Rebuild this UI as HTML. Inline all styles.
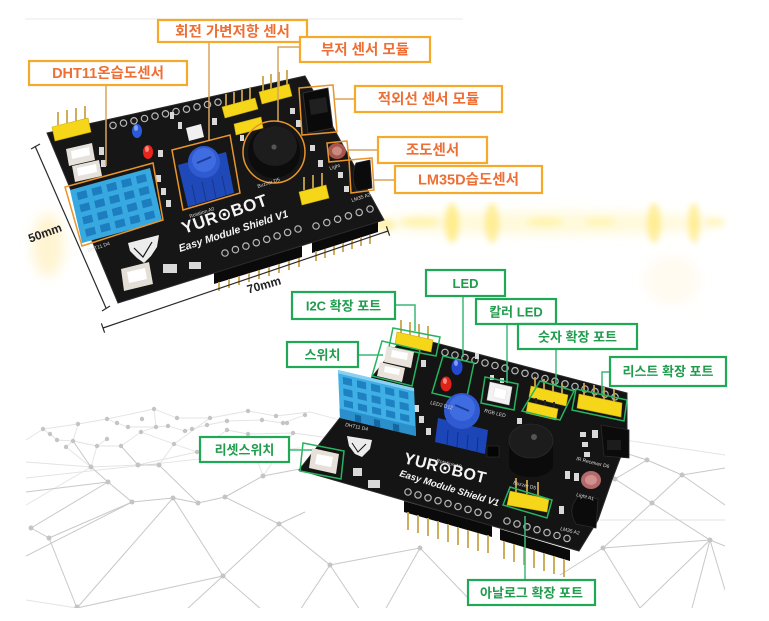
<!DOCTYPE html>
<html><head><meta charset="utf-8"><style>
html,body{margin:0;padding:0;background:#fff;width:769px;height:621px;overflow:hidden}
svg{display:block}
.ol{fill:#fff;stroke:#f6aa2a;stroke-width:2.2}
.gl{fill:#fff;stroke:#1fa855;stroke-width:2.2}
.ot{font-family:"Liberation Sans","Noto Sans CJK KR",sans-serif;font-weight:bold;font-size:14.5px;fill:#ee6f35;text-anchor:middle}
.gt{font-family:"Liberation Sans","Noto Sans CJK KR",sans-serif;font-weight:bold;font-size:13px;fill:#1f9c4c;text-anchor:middle}
.oc{stroke:#d9a35a;stroke-width:1.5;fill:none}
.gc{stroke:#3cb878;stroke-width:1.5;fill:none}
.of{stroke:#e8952c;stroke-width:1.5;fill:none}
.gf{stroke:#27b35f;stroke-width:1.5;fill:none}
.hole{fill:#1a1a1a;stroke:#b8b8b8;stroke-width:1.2}
.pin{stroke:#c9a44c;stroke-width:1.8}
.hdr{fill:#f5d619;stroke:#c9a90c;stroke-width:0.6}
.smd{fill:#d9d9d9}
.silk{font-family:"Liberation Sans",sans-serif;font-size:5px;fill:#ddd}
</style></head><body>
<svg width="769" height="621" viewBox="0 0 769 621" xmlns="http://www.w3.org/2000/svg">
<defs>
<filter id="bl" x="-50%" y="-100%" width="200%" height="300%"><feGaussianBlur stdDeviation="6"/></filter>
<filter id="bl2" x="-50%" y="-100%" width="200%" height="300%"><feGaussianBlur stdDeviation="3"/></filter>
<clipPath id="netclip"><rect x="26" y="380" width="699" height="228"/></clipPath>
</defs>
<rect width="769" height="621" fill="#fff"/>
<line x1="25" y1="19" x2="463" y2="19" stroke="#f1f1f1" stroke-width="1.5"/>

<!-- glow -->
<g filter="url(#bl)">
<ellipse cx="550" cy="223" rx="175" ry="11" fill="#fff1a8" opacity="0.45"/>
<ellipse cx="48" cy="245" rx="16" ry="32" fill="#ffe07a" opacity="0.35"/>
<ellipse cx="672" cy="280" rx="28" ry="25" fill="#fff3d6" opacity="0.35"/>
</g>
<g filter="url(#bl2)">
<ellipse cx="452" cy="223" rx="7" ry="20" fill="#ffe14d" opacity="0.55"/>
<ellipse cx="492" cy="223" rx="7" ry="20" fill="#ffe14d" opacity="0.5"/>
<ellipse cx="654" cy="223" rx="7" ry="20" fill="#ffe14d" opacity="0.5"/>
<ellipse cx="694" cy="223" rx="6" ry="20" fill="#ffe14d" opacity="0.5"/>
<ellipse cx="420" cy="222" rx="20" ry="5" fill="#ffeb70" opacity="0.4"/>
<ellipse cx="545" cy="222" rx="18" ry="5" fill="#ffeb70" opacity="0.35"/>
<ellipse cx="600" cy="222" rx="15" ry="5" fill="#ffeb70" opacity="0.3"/>
<ellipse cx="715" cy="222" rx="10" ry="4" fill="#ffeb70" opacity="0.35"/>
<ellipse cx="385" cy="225" rx="10" ry="6" fill="#ffe14d" opacity="0.4"/>
</g>

<!-- network -->
<g clip-path="url(#netclip)">
<g stroke="#e3e3e3" stroke-width="0.9" fill="none">
<path d="M26,440 L43,429 L78,424 L107,419 L154,409 L177,418 L210,418 L248,411 L276,416 L310,412 L340,420"/>
<path d="M50,434 L57,440 L73,441 L97,446 L121,446 L141,432 L174,444 L197,452 L227,430 L248,434 L293,433 L330,438"/>
<path d="M154,409 L156,427 L141,432"/>
<path d="M78,424 L73,441 L66,447 L91,467"/>
<path d="M107,439 L97,446 L91,467"/>
<path d="M107,419 L117,423 L128,427 L156,427 L168,426 L185,431 L192,429 L207,425 L227,421 L262,420 L283,423 L305,415"/>
<path d="M263,476 L248,434"/>
<path d="M159,465 L174,444"/>
<path d="M26,462 L91,467 L138,465 L197,452"/>
<path d="M26,478 L300,448"/>
<path d="M43,429 L57,440"/>
<path d="M174,444 L210,418"/>
<path d="M263,476 L293,433"/>
<path d="M26,505 L91,467"/>
<path d="M625,440 L725,455"/>
<path d="M600,520 L725,520"/>
<path d="M26,600 L77,608"/>
</g>
<g stroke="#c8c8c8" stroke-width="1" fill="none">
<path d="M31,528 L49,538 L77,608"/>
<path d="M77,608 L173,498 L223,576 L279,524"/>
<path d="M77,608 L223,576"/>
<path d="M173,498 L132,502 L108,482 L91,467 L73,441"/>
<path d="M108,482 L31,528"/>
<path d="M173,498 L198,503 L159,465 L138,465 L121,446"/>
<path d="M198,503 L225,497 L279,524"/>
<path d="M225,497 L263,476"/>
<path d="M49,538 L132,502"/>
<path d="M223,576 L262,610"/>
<path d="M223,576 L186,610"/>
<path d="M279,524 L305,512"/>
<path d="M26,492 L108,482"/>
<path d="M263,476 L305,468"/>
<path d="M132,502 L26,556"/>
<path d="M279,524 L330,565 L300,610"/>
<path d="M330,565 L420,548 L470,600"/>
<path d="M420,548 L385,610"/>
<path d="M330,565 L360,610"/>
<path d="M600,445 L647,460 L682,475 L725,468"/>
<path d="M615,479 L652,503 L710,540 L725,546"/>
<path d="M647,460 L615,479"/>
<path d="M682,475 L652,503"/>
<path d="M652,503 L603,548 L640,608"/>
<path d="M603,548 L710,540"/>
<path d="M682,475 L725,505"/>
<path d="M710,540 L692,608"/>
<path d="M710,540 L725,590"/>
<path d="M603,548 L560,575"/>
<path d="M640,608 L710,540"/>
</g>
<g fill="#c4c4c4">
<circle cx="154" cy="409" r="2.2"/><circle cx="78" cy="424" r="2.2"/><circle cx="43" cy="429" r="2.2"/><circle cx="107" cy="419" r="2.2"/><circle cx="117" cy="423" r="2.2"/><circle cx="128" cy="427" r="2.2"/><circle cx="142" cy="419" r="2.2"/><circle cx="156" cy="427" r="2.2"/><circle cx="168" cy="426" r="2.2"/><circle cx="177" cy="418" r="2.2"/><circle cx="185" cy="431" r="2.2"/><circle cx="192" cy="429" r="2.2"/><circle cx="210" cy="418" r="2.2"/><circle cx="207" cy="425" r="2.2"/><circle cx="227" cy="421" r="2.2"/><circle cx="248" cy="411" r="2.2"/><circle cx="262" cy="420" r="2.2"/><circle cx="276" cy="416" r="2.2"/><circle cx="283" cy="423" r="2.2"/><circle cx="248" cy="434" r="2.2"/><circle cx="227" cy="430" r="2.2"/><circle cx="293" cy="433" r="2.2"/><circle cx="50" cy="434" r="2.2"/><circle cx="57" cy="440" r="2.2"/><circle cx="73" cy="441" r="2.2"/><circle cx="66" cy="447" r="2.2"/><circle cx="97" cy="446" r="2.2"/><circle cx="107" cy="439" r="2.2"/><circle cx="121" cy="446" r="2.2"/><circle cx="141" cy="432" r="2.2"/><circle cx="174" cy="444" r="2.2"/><circle cx="197" cy="452" r="2.2"/><circle cx="305" cy="415" r="2.2"/><circle cx="287" cy="423" r="2.2"/>
<circle cx="91" cy="467" r="2.5"/><circle cx="138" cy="465" r="2.5"/><circle cx="159" cy="465" r="2.5"/><circle cx="108" cy="482" r="2.5"/><circle cx="132" cy="502" r="2.5"/><circle cx="173" cy="498" r="2.5"/><circle cx="198" cy="503" r="2.5"/><circle cx="225" cy="497" r="2.5"/><circle cx="263" cy="476" r="2.5"/><circle cx="31" cy="528" r="2.5"/><circle cx="49" cy="538" r="2.5"/><circle cx="279" cy="524" r="2.5"/><circle cx="223" cy="576" r="2.5"/><circle cx="77" cy="607" r="2.5"/><circle cx="330" cy="565" r="2.5"/><circle cx="420" cy="548" r="2.5"/>
<circle cx="647" cy="460" r="2.5"/><circle cx="682" cy="475" r="2.5"/><circle cx="652" cy="503" r="2.5"/><circle cx="710" cy="540" r="2.5"/><circle cx="603" cy="548" r="2.5"/><circle cx="615" cy="479" r="2.5"/>
</g>
</g>

<!-- ================= BOARD 1 ================= -->
<g>
<polygon points="214,273 302,246 302,257 214,284" fill="#0a0a0a"/>
<polygon points="312,242 378,221 378,232 312,253" fill="#0a0a0a"/>
<g class="pin">
<line x1="219" y1="282" x2="219" y2="291"/><line x1="229" y1="279" x2="229" y2="288"/><line x1="239" y1="276" x2="239" y2="285"/><line x1="249" y1="273" x2="249" y2="282"/><line x1="259" y1="270" x2="259" y2="279"/><line x1="269" y1="267" x2="269" y2="276"/><line x1="279" y1="264" x2="279" y2="273"/><line x1="289" y1="261" x2="289" y2="270"/><line x1="299" y1="258" x2="299" y2="267"/>
<line x1="316" y1="251" x2="316" y2="261"/><line x1="325" y1="249" x2="325" y2="258"/><line x1="334" y1="246" x2="334" y2="255"/><line x1="343" y1="243" x2="343" y2="252"/><line x1="352" y1="240" x2="352" y2="249"/><line x1="361" y1="237" x2="361" y2="246"/><line x1="370" y1="235" x2="370" y2="244"/>
</g>
<polygon points="47,133 305,76 384,220 118,303" fill="#161616" stroke="#2c2c2c" stroke-width="1"/>
<g class="hole">
<circle cx="113" cy="125.4" r="3.2"/><circle cx="123.5" cy="123.1" r="3.2"/><circle cx="134" cy="120.8" r="3.2"/><circle cx="144.5" cy="118.5" r="3.2"/><circle cx="155" cy="116.1" r="3.2"/><circle cx="165.5" cy="113.8" r="3.2"/><circle cx="176" cy="111.5" r="3.2"/><circle cx="186.5" cy="109.2" r="3.2"/><circle cx="197" cy="106.8" r="3.2"/><circle cx="207.5" cy="104.5" r="3.2"/><circle cx="218" cy="102.2" r="3.2"/>
<circle cx="225" cy="253" r="3.2"/><circle cx="235.4" cy="249.6" r="3.2"/><circle cx="245.9" cy="246.1" r="3.2"/><circle cx="256.3" cy="242.7" r="3.2"/><circle cx="266.7" cy="239.3" r="3.2"/><circle cx="277.1" cy="235.9" r="3.2"/><circle cx="287.6" cy="232.4" r="3.2"/><circle cx="298" cy="229" r="3.2"/>
<circle cx="316" cy="226" r="3.2"/><circle cx="326.8" cy="222.6" r="3.2"/><circle cx="337.6" cy="219.2" r="3.2"/><circle cx="348.4" cy="215.8" r="3.2"/><circle cx="359.2" cy="212.4" r="3.2"/><circle cx="370" cy="209" r="3.2"/>
</g>
<g class="smd">
<rect x="99" y="147" width="5" height="8"/><rect x="101" y="160" width="5" height="7"/><rect x="158" y="150" width="5" height="7"/><rect x="156" y="175" width="5" height="7"/><rect x="161" y="188" width="5" height="7"/><rect x="166" y="200" width="5" height="7"/><rect x="170" y="112" width="4" height="7"/><rect x="178" y="122" width="4" height="7"/><rect x="212" y="118" width="5" height="7"/><rect x="213" y="160" width="5" height="7"/><rect x="217" y="174" width="5" height="7"/><rect x="240" y="135" width="4" height="6"/><rect x="296" y="120" width="5" height="7"/><rect x="290" y="108" width="5" height="6"/><rect x="310" y="145" width="5" height="6"/><rect x="318" y="160" width="5" height="7"/><rect x="338" y="172" width="5" height="6"/><rect x="344" y="186" width="5" height="6"/><rect x="163" y="264" width="14" height="9"/><rect x="189" y="262" width="12" height="7"/>
</g>
<g class="pin"><line x1="58" y1="125" x2="58" y2="112"/><line x1="67" y1="123" x2="67" y2="110"/><line x1="76" y1="121" x2="76" y2="108"/><line x1="85" y1="119" x2="85" y2="106"/></g>
<polygon class="hdr" points="52,127 88,118 91,132 55,141"/>
<polygon points="66,149 92,143 95,160 69,166" fill="#e6e1da"/><polygon points="71,151 89,147 90,155 72,159" fill="#fff"/>
<polygon points="72,166 99,160 102,176 75,182" fill="#e6e1da"/><polygon points="77,168 96,164 97,172 78,176" fill="#fff"/>
<g transform="matrix(80,-22,12,53,70,190)">
<polygon points="0,0 1,0 1,1 0,1" fill="#38a9e0"/>
<g fill="#1c7dbf">
<rect x="0.07" y="0.08" width="0.12" height="0.14"/><rect x="0.255" y="0.08" width="0.12" height="0.14"/><rect x="0.44" y="0.08" width="0.12" height="0.14"/><rect x="0.625" y="0.08" width="0.12" height="0.14"/><rect x="0.81" y="0.08" width="0.12" height="0.14"/>
<rect x="0.07" y="0.31" width="0.12" height="0.14"/><rect x="0.255" y="0.31" width="0.12" height="0.14"/><rect x="0.44" y="0.31" width="0.12" height="0.14"/><rect x="0.625" y="0.31" width="0.12" height="0.14"/><rect x="0.81" y="0.31" width="0.12" height="0.14"/>
<rect x="0.07" y="0.54" width="0.12" height="0.14"/><rect x="0.255" y="0.54" width="0.12" height="0.14"/><rect x="0.44" y="0.54" width="0.12" height="0.14"/><rect x="0.625" y="0.54" width="0.12" height="0.14"/><rect x="0.81" y="0.54" width="0.12" height="0.14"/>
<rect x="0.07" y="0.77" width="0.12" height="0.14"/><rect x="0.255" y="0.77" width="0.12" height="0.14"/><rect x="0.44" y="0.77" width="0.12" height="0.14"/><rect x="0.625" y="0.77" width="0.12" height="0.14"/><rect x="0.81" y="0.77" width="0.12" height="0.14"/>
</g>
</g>
<polygon class="of" points="65,187 153,163 163,220 82,246"/>
<ellipse cx="137" cy="131" rx="5" ry="7" fill="#2a5ad8"/><ellipse cx="136" cy="128" rx="2" ry="3" fill="#7fa0f0"/>
<ellipse cx="148" cy="152" rx="5" ry="7" fill="#e8261c"/><ellipse cx="147" cy="149" rx="2" ry="3" fill="#f68a80"/>
<polygon points="186,128 201,124 204,137 189,141" fill="#f0f0f0"/>
<polygon points="178,165 226,152 234,193 188,207" fill="#1f48b8"/>
<g stroke="#17358a" stroke-width="1"><line x1="192" y1="185" x2="196" y2="204"/><line x1="202" y1="182" x2="206" y2="201"/><line x1="212" y1="179" x2="216" y2="198"/><line x1="222" y1="176" x2="226" y2="195"/></g>
<circle cx="204" cy="162" r="16" fill="#2f5ad0"/><circle cx="204" cy="160" r="12" fill="#3f6ce0"/><line x1="197" y1="163" x2="211" y2="157" stroke="#1c3c9c" stroke-width="2"/>
<polygon class="of" points="172,150 230,135 240,193 183,210"/>
<g class="pin">
<line x1="226" y1="106" x2="226" y2="94"/><line x1="234" y1="104" x2="234" y2="92"/><line x1="242" y1="102" x2="242" y2="90"/><line x1="250" y1="100" x2="250" y2="88"/>
<line x1="263" y1="91" x2="263" y2="76"/><line x1="271" y1="89" x2="271" y2="74"/><line x1="279" y1="87" x2="279" y2="72"/><line x1="287" y1="85" x2="287" y2="70"/>
<line x1="304" y1="190" x2="304" y2="177"/><line x1="313" y1="188" x2="313" y2="175"/><line x1="322" y1="186" x2="322" y2="173"/>
</g>
<polygon class="hdr" points="222,107 255,98 258,109 225,118"/>
<polygon class="hdr" points="234,124 261,117 263,128 236,135"/>
<polygon class="hdr" points="259,92 289,84 292,96 262,104"/>
<polygon class="hdr" points="299,192 326,185 329,198 302,205"/>
<circle cx="274" cy="152" r="26" fill="#0c0c0c"/>
<ellipse cx="275" cy="146" rx="22" ry="20" fill="#1d1d1d"/>
<circle cx="274" cy="147" r="2.6" fill="#555"/>
<circle class="of" cx="274" cy="152" r="31"/>
<polygon points="303,93 328,88 333,128 308,133" fill="#0a0a0a" stroke="#333" stroke-width="0.8"/>
<polygon points="309,100 326,97 328,112 311,115" fill="#202020"/>
<polygon class="of" points="299,88 333,85 337,132 302,135"/>
<ellipse cx="337" cy="151" rx="9" ry="8" fill="#a8554e"/><ellipse cx="337" cy="151" rx="5" ry="4.5" fill="#c98a80"/>
<polygon class="of" points="327,143 347,141 349,160 329,162"/>
<path d="M356,163 L370,160 L372,188 L357,191 Q350,178 356,163 Z" fill="#0b0b0b" stroke="#2a2a2a" stroke-width="0.8"/>
<polygon class="of" points="349,160 372,158 374,190 351,193"/>
<polygon points="128,243 159,235 157,247 151,256 144,263 137,258 130,251" fill="#ececec"/>
<path d="M134,248 L143,257 L152,242" stroke="#161616" stroke-width="1.2" fill="none"/>
<polygon points="121,269 149,262 153,284 124,291" fill="#e3ded6"/><polygon points="127,272 145,268 147,279 129,283" fill="#fff"/>
<text x="184" y="234" transform="rotate(-19 184 234)" font-family="'Liberation Sans','DejaVu Sans',sans-serif" font-weight="bold" font-size="17" fill="#f4f4f4" letter-spacing="0.5">YUR⊙BOT</text>
<text x="180" y="252" transform="rotate(-18 180 252)" font-family="'Liberation Sans',sans-serif" font-weight="bold" font-style="italic" font-size="10.5" fill="#f4f4f4">Easy Module Shield V1</text>
<text class="silk" x="88" y="252" transform="rotate(-18 88 252)">DHT11 D4</text>
<text class="silk" x="190" y="218" transform="rotate(-18 190 218)">Rotation A0</text>
<text class="silk" x="258" y="188" transform="rotate(-18 258 188)">Buzzer D5</text>
<text class="silk" x="330" y="170" transform="rotate(-18 330 170)">Light</text>
<text class="silk" x="352" y="202" transform="rotate(-18 352 202)">LM35 A2</text>
</g>

<!-- ================= BOARD 2 ================= -->
<g>
<polygon points="404,501 492,526 492,537 404,512" fill="#0a0a0a"/>
<polygon points="500,529 570,550 570,561 500,540" fill="#0a0a0a"/>
<g class="pin">
<line x1="408" y1="512" x2="408" y2="530"/><line x1="418" y1="515" x2="418" y2="533"/><line x1="428" y1="518" x2="428" y2="536"/><line x1="438" y1="521" x2="438" y2="539"/><line x1="448" y1="524" x2="448" y2="542"/><line x1="458" y1="527" x2="458" y2="545"/><line x1="468" y1="530" x2="468" y2="548"/><line x1="478" y1="533" x2="478" y2="551"/><line x1="488" y1="535" x2="488" y2="553"/>
<line x1="504" y1="541" x2="504" y2="559"/><line x1="514" y1="544" x2="514" y2="562"/><line x1="524" y1="547" x2="524" y2="565"/><line x1="534" y1="550" x2="534" y2="568"/><line x1="544" y1="553" x2="544" y2="571"/><line x1="554" y1="556" x2="554" y2="574"/><line x1="564" y1="559" x2="564" y2="577"/>
</g>
<polygon points="405,335 627,393 627,440 612,480 598,520 579,551 299,470" fill="#141414" stroke="#2c2c2c" stroke-width="1"/>
<g class="hole">
<circle cx="445" cy="352.4" r="3.2"/><circle cx="455" cy="355" r="3.2"/><circle cx="465" cy="357.6" r="3.2"/><circle cx="475" cy="360.3" r="3.2"/><circle cx="485" cy="362.9" r="3.2"/><circle cx="495" cy="365.5" r="3.2"/><circle cx="505" cy="368.1" r="3.2"/><circle cx="515" cy="370.7" r="3.2"/><circle cx="525" cy="373.3" r="3.2"/><circle cx="535" cy="375.9" r="3.2"/><circle cx="545" cy="378.5" r="3.2"/><circle cx="555" cy="381.2" r="3.2"/><circle cx="565" cy="383.8" r="3.2"/><circle cx="575" cy="386.4" r="3.2"/><circle cx="585" cy="389" r="3.2"/><circle cx="595" cy="391.6" r="3.2"/><circle cx="605" cy="394.2" r="3.2"/><circle cx="615" cy="396.8" r="3.2"/>
<circle cx="408" cy="492" r="3.2"/><circle cx="418" cy="494.9" r="3.2"/><circle cx="428" cy="497.8" r="3.2"/><circle cx="438" cy="500.7" r="3.2"/><circle cx="448" cy="503.6" r="3.2"/><circle cx="458" cy="506.5" r="3.2"/><circle cx="468" cy="509.4" r="3.2"/><circle cx="478" cy="512.3" r="3.2"/><circle cx="488" cy="515.2" r="3.2"/>
<circle cx="507" cy="521" r="3.2"/><circle cx="517" cy="523.9" r="3.2"/><circle cx="527" cy="526.8" r="3.2"/><circle cx="537" cy="529.7" r="3.2"/><circle cx="547" cy="532.6" r="3.2"/><circle cx="557" cy="535.5" r="3.2"/><circle cx="567" cy="538.4" r="3.2"/>
</g>
<g class="smd">
<rect x="421" y="360" width="5" height="7"/><rect x="414" y="405" width="5" height="7"/><rect x="419" y="416" width="5" height="7"/><rect x="426" y="428" width="5" height="7"/><rect x="475" y="353" width="4" height="6"/><rect x="490" y="375" width="4" height="5"/><rect x="500" y="378" width="4" height="5"/><rect x="517" y="418" width="5" height="6"/><rect x="580" y="432" width="6" height="5"/><rect x="582" y="442" width="6" height="5"/><rect x="584" y="452" width="6" height="5"/><rect x="592" y="430" width="6" height="8"/><rect x="565" y="471" width="5" height="8"/><rect x="574" y="473" width="5" height="8"/><rect x="559" y="506" width="5" height="8"/><rect x="353" y="468" width="9" height="8"/><rect x="368" y="480" width="12" height="8"/>
</g>
<rect x="487" y="446" width="12" height="11" fill="#050505" stroke="#333" stroke-width="0.6"/>
<g class="pin"><line x1="401" y1="334" x2="401" y2="320"/><line x1="410" y1="336" x2="410" y2="322"/><line x1="419" y1="338" x2="419" y2="324"/><line x1="428" y1="340" x2="428" y2="326"/></g>
<polygon class="hdr" points="397,332 433,340 431,352 395,344"/>
<polygon class="gf" points="393,328 440,337 436,356 389,347"/>
<polygon points="387,346 414,352 411,368 384,362" fill="#e9e3db"/><polygon points="392,350 408,353 407,360 391,357" fill="#fff"/>
<polygon points="380,362 405,368 402,382 377,376" fill="#e9e3db"/><polygon points="385,366 400,369 399,375 384,372" fill="#fff"/>
<polygon class="gf" points="382,341 420,350 412,386 372,376"/>
<g transform="matrix(76,18,2,48,338,370)">
<polygon points="0,0 1,0 1,1 0,1" fill="#3fb0e6"/>
<polygon points="0,0 1,0 1,0.07 0,0.07" fill="#8ad0f2"/>
<polygon points="0,0.8 1,0.8 1,1 0,1" fill="#2a8fca"/>
<g fill="#1f80c2">
<rect x="0.06" y="0.12" width="0.12" height="0.15"/><rect x="0.245" y="0.12" width="0.12" height="0.15"/><rect x="0.43" y="0.12" width="0.12" height="0.15"/><rect x="0.615" y="0.12" width="0.12" height="0.15"/><rect x="0.8" y="0.12" width="0.12" height="0.15"/>
<rect x="0.06" y="0.36" width="0.12" height="0.15"/><rect x="0.245" y="0.36" width="0.12" height="0.15"/><rect x="0.43" y="0.36" width="0.12" height="0.15"/><rect x="0.615" y="0.36" width="0.12" height="0.15"/><rect x="0.8" y="0.36" width="0.12" height="0.15"/>
<rect x="0.06" y="0.6" width="0.12" height="0.14"/><rect x="0.245" y="0.6" width="0.12" height="0.14"/><rect x="0.43" y="0.6" width="0.12" height="0.14"/><rect x="0.615" y="0.6" width="0.12" height="0.14"/><rect x="0.8" y="0.6" width="0.12" height="0.14"/>
<rect x="0.2" y="0.85" width="0.08" height="0.15" fill="#1467a0"/><rect x="0.45" y="0.85" width="0.08" height="0.15" fill="#1467a0"/><rect x="0.7" y="0.85" width="0.08" height="0.15" fill="#1467a0"/>
</g>
</g>
<ellipse cx="457" cy="367" rx="5.5" ry="8" fill="#2449d0"/><ellipse cx="456" cy="363" rx="2" ry="3" fill="#7f9cf0"/>
<ellipse cx="446" cy="384" rx="5.5" ry="7.5" fill="#e02318"/><ellipse cx="445" cy="381" rx="2" ry="3" fill="#f58a80"/>
<polygon class="gf" points="443,356 474,363 466,401 432,393"/>
<polygon points="490,382 512,387 509,405 487,400" fill="#f2f2f2" stroke="#ccc" stroke-width="0.6"/>
<polygon points="495,387 507,390 505,400 493,397" fill="#fff" stroke="#ddd" stroke-width="0.5"/>
<polygon class="gf" points="485,377 518,384 514,410 481,403"/>
<polygon points="438,418 488,430 485,454 435,442" fill="#1c46b8"/>
<g stroke="#12307f" stroke-width="1"><line x1="448" y1="430" x2="447" y2="445"/><line x1="458" y1="432" x2="457" y2="447"/><line x1="468" y1="435" x2="467" y2="450"/><line x1="478" y1="437" x2="477" y2="452"/></g>
<circle cx="462" cy="411" r="18" fill="#2f5ad0"/><circle cx="462" cy="408" r="13" fill="#3f6ce0"/>
<line x1="455" y1="405" x2="469" y2="411" stroke="#1c3c9c" stroke-width="2"/>
<path d="M509,441 L509,465 A22,12 0 0 0 553,465 L553,441 Z" fill="#0b0b0b"/>
<ellipse cx="531" cy="441" rx="22" ry="17" fill="#1c1c1c" stroke="#2a2a2a" stroke-width="0.8"/>
<circle cx="534" cy="437" r="3" fill="#555"/>
<g class="pin"><line x1="535" y1="388" x2="535" y2="377"/><line x1="544" y1="390" x2="544" y2="379"/><line x1="553" y1="392" x2="553" y2="381"/><line x1="562" y1="394" x2="562" y2="383"/></g>
<polygon class="hdr" points="531,386 568,395 566,406 529,397"/>
<g stroke="#222" stroke-width="1.8"><line x1="536" y1="404" x2="536" y2="398"/><line x1="545" y1="406" x2="545" y2="400"/><line x1="554" y1="408" x2="554" y2="402"/></g>
<polygon class="hdr" points="528,402 558,409 556,420 526,413"/>
<polygon class="gf" points="540,381 574,391 560,420 522,411"/>
<g class="pin"><line x1="584" y1="396" x2="584" y2="383"/><line x1="594" y1="398" x2="594" y2="385"/><line x1="604" y1="400" x2="604" y2="387"/><line x1="614" y1="402" x2="614" y2="389"/></g>
<polygon class="hdr" points="579,394 622,403 621,417 577,408"/>
<polygon class="gf" points="576,389 627,400 624,421 572,410"/>
<polygon points="601,425 629,430 629,458 604,456" fill="#0b0b0b" stroke="#2a2a2a" stroke-width="0.8"/>
<rect x="607" y="440" width="14" height="10" fill="#1c1c1c"/>
<ellipse cx="591" cy="480" rx="10" ry="9" fill="#b4696a"/><ellipse cx="591" cy="480" rx="6" ry="5" fill="#cf9290"/>
<path d="M580,495 L598,499 L596,528 L576,524 Q566,508 580,495 Z" fill="#0b0b0b" stroke="#2a2a2a" stroke-width="0.8"/>
<g class="pin"><line x1="516" y1="492" x2="516" y2="478"/><line x1="527" y1="494" x2="527" y2="480"/><line x1="538" y1="496" x2="538" y2="482"/></g>
<polygon class="hdr" points="510,491 549,499 547,512 507,505"/>
<polygon class="gf" points="510,487 552,500 547,518 503,505"/>
<polygon points="312,448 339,454 336,474 309,468" fill="#e6e0d8"/><polygon points="317,454 333,457 331,467 315,464" fill="#fff"/>
<polygon class="gf" points="303,443 344,451 341,479 300,471"/>
<polygon points="347,436 372,440 370,449 362,457 355,454 349,446" fill="#ececec"/>
<path d="M352,443 L358,452 L366,444" stroke="#141414" stroke-width="1" fill="none"/>
<text x="403" y="463" transform="rotate(14 403 463)" font-family="'Liberation Sans','DejaVu Sans',sans-serif" font-weight="bold" font-size="16" fill="#f4f4f4" letter-spacing="0.5">YUR⊙BOT</text>
<text x="399" y="476" transform="rotate(17 399 476)" font-family="'Liberation Sans',sans-serif" font-weight="bold" font-style="italic" font-size="9.5" fill="#f4f4f4">Easy Module Shield V1</text>
<text class="silk" x="345" y="426" transform="rotate(12 345 426)">DHT11 D4</text>
<text class="silk" x="436" y="462" transform="rotate(14 436 462)">Rotation A0</text>
<text class="silk" x="513" y="484" transform="rotate(14 513 484)">Buzzer D5</text>
<text class="silk" x="576" y="460" transform="rotate(14 576 460)">IR Receiver D6</text>
<text class="silk" x="576" y="496" transform="rotate(14 576 496)">Light A1</text>
<text class="silk" x="560" y="530" transform="rotate(14 560 530)">LM35 A2</text>
<text class="silk" x="430" y="404" transform="rotate(14 430 404)">LED2 D12</text>
<text class="silk" x="484" y="412" transform="rotate(14 484 412)">RGB LED</text>
</g>

<!-- dimension lines -->
<g stroke="#2a2a2a" stroke-width="1.2">
<line x1="35" y1="146" x2="106" y2="308"/>
<line x1="31" y1="149" x2="40" y2="144"/>
<line x1="102" y1="311" x2="110" y2="306"/>
<line x1="103" y1="328" x2="388" y2="231"/>
<line x1="101.4" y1="323.3" x2="104.6" y2="332.7"/>
<line x1="386.4" y1="226.3" x2="389.6" y2="235.7"/>
</g>
<text x="45" y="237" text-anchor="middle" transform="rotate(-20 45 233)" font-family="'Liberation Sans',sans-serif" font-weight="bold" font-size="12" fill="#222">50mm</text>
<text x="264" y="289" text-anchor="middle" transform="rotate(-16 264 285)" font-family="'Liberation Sans',sans-serif" font-weight="bold" font-size="12" fill="#222">70mm</text>

<!-- orange connectors -->
<path class="oc" d="M106,85 L106,166"/>
<path class="oc" d="M209,42 L209,141"/>
<path class="oc" d="M300,47 L278,47 L278,121"/>
<path class="oc" d="M355,99 L334,99"/>
<path class="oc" d="M378,150 L348,150"/>
<path class="oc" d="M395,180 L373,180"/>

<!-- green connectors -->
<path class="gc" d="M395,305 L415,305 L415,331"/>
<path class="gc" d="M463,296 L463,357"/>
<path class="gc" d="M507,324 L507,383"/>
<path class="gc" d="M556,349 L556,386"/>
<path class="gc" d="M610,372 L602,372 L602,393"/>
<path class="gc" d="M358,355 L383,355"/>
<path class="gc" d="M289,450 L312,450"/>
<path class="gc" d="M525,516 L525,580"/>

<!-- orange labels -->
<rect class="ol" x="158" y="20" width="149" height="22"/>
<text class="ot" x="232.5" y="36.5">회전 가변저항 센서</text>
<rect class="ol" x="300" y="37" width="130" height="25"/>
<text class="ot" x="365" y="54.5">부저 센서 모듈</text>
<rect class="ol" x="29" y="61" width="158" height="24"/>
<text class="ot" x="108" y="78">DHT11온습도센서</text>
<rect class="ol" x="355" y="86" width="147" height="26"/>
<text class="ot" x="428.5" y="104">적외선 센서 모듈</text>
<rect class="ol" x="378" y="137" width="109" height="26"/>
<text class="ot" x="432.5" y="155">조도센서</text>
<rect class="ol" x="395" y="166" width="147" height="27"/>
<text class="ot" x="468.5" y="184.5">LM35D습도센서</text>

<!-- green labels -->
<rect class="gl" x="426" y="270" width="79" height="26"/>
<text class="gt" x="465.5" y="288">LED</text>
<rect class="gl" x="292" y="292" width="103" height="27"/>
<text class="gt" x="343.5" y="310.5">I2C 확장 포트</text>
<rect class="gl" x="476" y="299" width="80" height="25"/>
<text class="gt" x="516" y="316.5">칼러 LED</text>
<rect class="gl" x="518" y="324" width="119" height="25"/>
<text class="gt" x="577.5" y="341.5">숫자 확장 포트</text>
<rect class="gl" x="287" y="342" width="71" height="25"/>
<text class="gt" x="322.5" y="359.5">스위치</text>
<rect class="gl" x="610" y="357" width="116" height="29"/>
<text class="gt" x="668" y="376">리스트 확장 포트</text>
<rect class="gl" x="200" y="437" width="89" height="25"/>
<text class="gt" x="244.5" y="454.5">리셋스위치</text>
<rect class="gl" x="468" y="580" width="127" height="25"/>
<text class="gt" x="531.5" y="597.5">아날로그 확장 포트</text>
</svg>
</body></html>
